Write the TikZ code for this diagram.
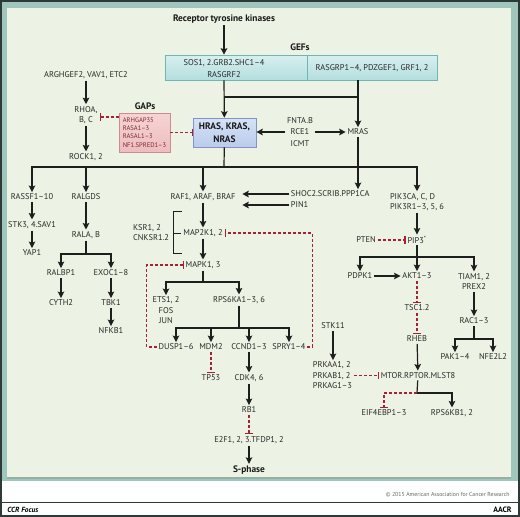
\documentclass[tikz,border=0pt]{standalone}
\usepackage{fontspec}
\setmainfont{PT Sans}
\usepackage{tikz}
\usetikzlibrary{positioning}
\usetikzlibrary{arrows.meta,shadows}

\definecolor{panelgreen}{RGB}{237,243,228}
\definecolor{frameteal}{RGB}{158,198,188}
\definecolor{framedark}{RGB}{45,58,56}
\definecolor{genetext}{RGB}{40,40,40}
\definecolor{linegray}{RGB}{30,30,30}
\definecolor{inhred}{RGB}{168,32,52}
\definecolor{geftop}{RGB}{216,239,239}
\definecolor{gefbot}{RGB}{180,222,222}
\definecolor{gefedge}{RGB}{112,180,182}
\definecolor{rastop}{RGB}{214,226,246}
\definecolor{rasbot}{RGB}{186,204,236}
\definecolor{rasedge}{RGB}{128,148,200}
\definecolor{gaptop}{RGB}{246,212,212}
\definecolor{gapbot}{RGB}{238,188,190}
\definecolor{gapedge}{RGB}{206,138,142}
\definecolor{gaptext}{RGB}{118,42,48}

\begin{document}
\begin{tikzpicture}[x=1pt, y=-1pt, thick,
    gene/.style = {inner sep=1.5pt, align=center, text=genetext, font=\fontsize{8.4}{10.5}\selectfont},
    headline/.style = {inner sep=1.5pt, align=center, text=black!90, font=\bfseries\fontsize{9.4}{11}\selectfont},
    arr/.style = {draw=linegray, line width=1.2pt, -{Stealth[length=6.5pt,width=6.5pt,inset=1.2pt]}},
    inh/.style = {draw=inhred, line width=1.2pt, dash pattern=on 3pt off 2pt, -{Bar[width=7.5pt]}},
    wire/.style = {draw=linegray, line width=1.2pt},
    boxshadow/.style = {drop shadow={opacity=0.22, shadow xshift=1pt, shadow yshift=-1.2pt}},
    gefbox/.style = {draw=gefedge, line width=0.6pt, top color=geftop, bottom color=gefbot, minimum height=25pt, inner sep=0pt, boxshadow},
    rasbox/.style = {draw=rasedge, line width=0.6pt, top color=rastop, bottom color=rasbot, minimum width=63pt, minimum height=29pt, inner sep=1pt, align=center, text=black!90, font=\bfseries\fontsize{9.4}{12.5}\selectfont, boxshadow},
    gapbox/.style = {draw=gapedge, line width=0.6pt, top color=gaptop, bottom color=gapbot, minimum width=51pt, minimum height=39pt, inner sep=2pt, align=left, text=gaptext, font=\fontsize{6.6}{8.3}\selectfont, boxshadow}]
    \useasboundingbox (0,0) rectangle (520,517);
    % Frame
    \fill[white] (0,0) rectangle (520,517);
    \fill[frameteal] (2,2) rectangle (518,481);
    \fill[panelgreen, drop shadow={opacity=0.3, shadow xshift=0pt, shadow yshift=-1.5pt}] (7,8) rectangle (511,477);
    \draw[framedark, line width=2.2pt] (1,1) rectangle (519,516);
    \draw[framedark, line width=1pt] (1,502) -- (519,502);
    \node[anchor=east, text=black!60, inner sep=0pt, font=\fontsize{5.8}{6}\selectfont] (copy) at (510,495) {\textcopyright{} 2015 American Association for Cancer Research};
    \node[anchor=west, inner sep=0pt, font=\bfseries\itshape\fontsize{7.4}{8}\selectfont] (ccr) at (7,509.5) {CCR Focus};
    \node[anchor=east, inner sep=0pt, font=\bfseries\fontsize{7.8}{8}\selectfont] (aacr) at (512,509.5) {AACR};

    % Nodes
    \node[headline] (rtk) at (224,19) {Receptor tyrosine kinases};
    \node[headline] (gefs) at (300,47) {GEFs};
    \node[gefbox, minimum width=142pt] (gefA) at (236,67.5) {};
    \node[gene, font=\fontsize{8.4}{11.5}\selectfont] (gefAtext) at (224,68.5) {SOS1, 2.GRB2.SHC1–4\\RASGRF2};
    \node[gefbox, minimum width=130pt] (gefB) at (372,67.5) {};
    \node[gene] (gefBtext) at (372,68.5) {RASGRP1–4, PDZGEF1, GRF1, 2};
    \node[rasbox] (ras) at (224.5,132.5) {HRAS, KRAS,\\NRAS};
    \node[headline] (gapslabel) at (145,106) {GAPs};
    \node[gapbox] (gaps) at (144.5,132.5) {ARHGAP35\\RASA1–3\\RASAL1–3\\NF1.SPRED1–3};
    \node[gene] (argh) at (86,75) {ARGHGEF2, VAV1, ETC2};
    \node[gene] (rho) at (86,115) {RHOA,\\B, C};
    \node[gene] (rock) at (86,157) {ROCK1, 2};
    \node[gene, font=\fontsize{8.4}{11.5}\selectfont] (fnta) at (300,132) {FNTA.B\\RCE1\\ICMT};
    \node[gene] (mras) at (358,132) {MRAS};

    \node[gene] (rassf) at (32,197) {RASSF1–10};
    \node[gene] (stk3) at (32,225) {STK3, 4.SAV1};
    \node[gene] (yap) at (32,253) {YAP1};
    \node[gene] (ralgds) at (86,197) {RALGDS};
    \node[gene] (rala) at (86,235) {RALA, B};
    \node[gene] (ralbp) at (61,273) {RALBP1};
    \node[gene] (cyth) at (61,303) {CYTH2};
    \node[gene] (exoc) at (111,273) {EXOC1–8};
    \node[gene] (tbk) at (111,303) {TBK1};
    \node[gene] (nfkb) at (111,331) {NFKB1};

    \node[gene] (raf) at (203,197) {RAF1, ARAF, BRAF};
    \node[gene, anchor=west] (shoc) at (289,194) {SHOC2.SCRIB.PPP1CA};
    \node[gene, anchor=west] (pin) at (289,205) {PIN1};
    \node[gene, align=left] (ksr) at (151,232.5) {KSR1, 2\\CNKSR1.2};
    \node[gene] (mek) at (203,233) {MAP2K1, 2};
    \node[gene] (erk) at (203,265) {MAPK1, 3};
    \node[gene] (ets) at (166,310.5) {ETS1, 2\\FOS\\JUN};
    \node[gene] (rsk) at (239,300) {RPS6KA1–3, 6};
    \node[gene] (dusp) at (176,347) {DUSP1–6};
    \node[gene] (mdm) at (211,347) {MDM2};
    \node[gene] (ccnd) at (249,347) {CCND1–3};
    \node[gene] (spry) at (289,347) {SPRY1–4};
    \node[gene] (tp53) at (211,378) {TP53};
    \node[gene] (cdk) at (249,378) {CDK4, 6};
    \node[gene] (rb) at (249,410) {RB1};
    \node[gene] (e2f) at (249,440) {E2F1, 2, 3.TFDP1, 2};
    \node[headline] (sphase) at (249,470) {S-phase};

    \node[gene, align=left] (pik) at (417,202) {PIK3CA, C, D\\PIK3R1–3, 5, 6};
    \node[gene] (pten) at (366,240) {PTEN};
    \node[gene] (pip) at (417,240) {PIP3\textsuperscript{*}};
    \node[gene] (pdpk) at (360,276) {PDPK1};
    \node[gene] (akt) at (417,276) {AKT1–3};
    \node[gene] (tiam) at (474,281.5) {TIAM1, 2\\PREX2};
    \node[gene] (tsc) at (417,308) {TSC1.2};
    \node[gene] (rheb) at (417,339) {RHEB};
    \node[gene] (rac) at (474,321) {RAC1–3};
    \node[gene] (pak) at (455,357) {PAK1–4};
    \node[gene] (nfe) at (493,357) {NFE2L2};
    \node[gene] (stk11) at (333,326) {STK11};
    \node[gene, anchor=west, align=left] (prka) at (311,375.5) {PRKAA1, 2\\PRKAB1, 2\\PRKAG1–3};
    \node[gene] (mtor) at (418,375.5) {MTOR.RPTOR.MLST8};
    \node[gene] (eif) at (384,413) {EIF4EBP1–3};
    \node[gene] (s6k) at (452,413) {RPS6KB1, 2};

    % Branch points
    \coordinate (gefjoin) at (224,97);
    \coordinate (rasbus) at (224,167);
    \coordinate (ralabus) at (86,254);
    \coordinate (erkbus) at (203,282);
    \coordinate (rskbus) at (239,328);
    \coordinate (pipbus) at (417,257);
    \coordinate (racbus) at (474,339);
    \coordinate (mtorbus) at (417,393);

    % Edges
    \draw[arr] (rtk) -- (rtk |- gefA.north);
    \draw[arr] (rtk |- gefA.south) -- (ras);
    \draw[wire] (gefjoin) -- (gefjoin -| mras);
    \draw[arr] (gefB.south -| mras) -- (mras);
    \draw[arr] (argh) -- (rho);
    \draw[arr] (rho) -- (rock);
    \draw[inh] (gaps.west |- 0,117) -- (rho.east |- 0,117);
    \draw[inh] (gaps) -- (ras);
    \draw[arr] (fnta.west) -- (fnta.west -| ras.east);
    \draw[arr] (fnta.east) -- (mras.west);

    \draw[wire] (ras) -- (rasbus);
    \draw[arr] (rasbus) -| (rassf);
    \draw[arr] (rasbus) -| (ralgds);
    \draw[arr] (rasbus) -| (raf);
    \draw[arr] (rasbus) -| (pik);
    \draw[arr] (mras) -- (mras |- shoc.north);

    \draw[arr] (rassf) -- (stk3);
    \draw[arr] (stk3) -- (yap);
    \draw[arr] (ralgds) -- (rala);
    \draw[wire] (rala) -- (ralabus);
    \draw[arr] (ralabus) -| (ralbp);
    \draw[arr] (ralabus) -| (exoc);
    \draw[arr] (ralbp) -- (cyth);
    \draw[arr] (exoc) -- (tbk);
    \draw[arr] (tbk) -- (nfkb);

    \draw[arr, shorten >=5pt] (shoc.west) -- (shoc.west -| raf.east);
    \draw[arr, shorten >=5pt] (pin.west) -- (pin.west -| raf.east);
    \draw[arr] (raf) -- (mek);
    \draw[arr] (mek) -- (erk);
    \draw[wire, line width=1pt] (182,211) -- (173,211) -- (173,253) -- (182,253);
    \draw[wire, line width=1pt] (173,233) -- (mek.west);
    \draw[wire] (erk) -- (erkbus);
    \draw[arr] (erkbus) -| (ets);
    \draw[arr] (erkbus) -| (rsk);
    \draw[wire] (rsk) -- (rskbus);
    \draw[arr] (rskbus) -| (dusp);
    \draw[arr] (rskbus) -| (mdm);
    \draw[arr] (rskbus) -| (ccnd);
    \draw[arr] (rskbus) -| (spry);
    \draw[inh] (spry.east) -- ++(5,0) |- (mek.east);
    \draw[inh] (dusp.west) -- ++(-10,0) |- (erk.west);
    \draw[inh] (mdm) -- (tp53);
    \draw[arr] (ccnd) -- (cdk);
    \draw[arr] (cdk) -- (rb);
    \draw[inh] (rb) -- (e2f);
    \draw[arr] (e2f) -- (sphase);

    \draw[arr] (pik) -- (pip);
    \draw[inh] (pten) -- (pip);
    \draw[wire] (pip) -- (pipbus);
    \draw[arr] (pipbus) -| (pdpk);
    \draw[arr] (pipbus) -| (akt);
    \draw[arr] (pipbus) -| (tiam);
    \draw[arr] (pdpk) -- (akt);
    \draw[inh] (akt) -- (tsc);
    \draw[inh] (tsc) -- (rheb);
    \draw[arr] (rheb) -- (mtor);
    \draw[arr] (tiam) -- (rac);
    \draw[wire] (rac) -- (racbus);
    \draw[arr] (racbus) -| (pak);
    \draw[arr] (racbus) -| (nfe);
    \draw[arr] (stk11) -- (stk11 |- prka.north);
    \draw[inh] (prka.east) -- (mtor.west);
    \draw[wire] (mtor) -- (mtorbus);
    \draw[arr] (mtorbus) -| (s6k);
    \draw[inh] (mtorbus) -| (eif);
\end{tikzpicture}
\end{document}
